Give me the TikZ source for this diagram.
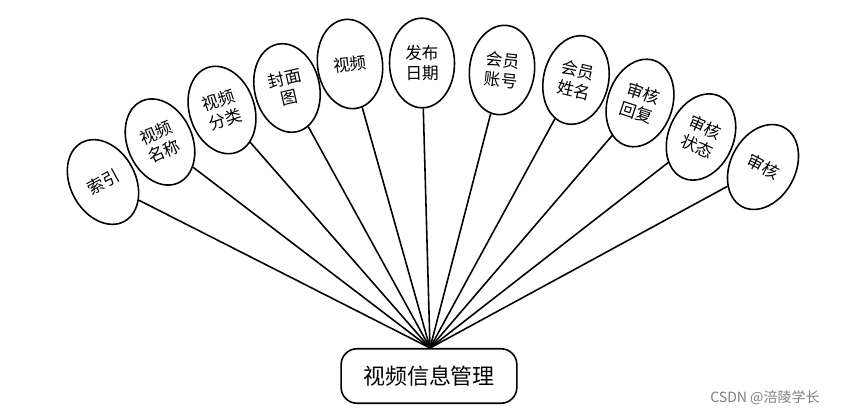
\documentclass[tikz,border=0pt]{standalone}
\usepackage{fontspec}
\usetikzlibrary{shapes.geometric}
\newfontfamily\cjk{Noto Sans CJK SC}
\begin{document}
\begin{tikzpicture}[x=0.02cm,y=0.02cm,
  attr/.style={draw,ellipse,line width=0.9pt,minimum width=37pt,minimum height=51pt,inner sep=0pt,font=\cjk\fontsize{9.5}{11.5}\selectfont,align=center},
  conn/.style={line width=0.9pt},
  ent/.style={draw,rounded corners=9pt,line width=0.9pt,minimum width=100pt,minimum height=31pt,font=\cjk\fontsize{12.5}{14}\selectfont}]
\useasboundingbox (0,0) rectangle (851,416);
\fill[white] (0,0) rectangle (851,416);
\node[ent] (box) at (429,40) {视频信息管理};
\coordinate (hub) at (430,68);
\foreach \n/\x/\y/\t in {a1/103/234/索引,a2/160/274/视频\\名称,a3/222/306/视频\\分类,a4/287/328/封面\\图,a5/350/352/视频,a6/422/353/发布\\日期,a7/502/346/会员\\账号,a8/576/336/会员\\姓名,a9/640/313/审核\\回复,a10/701/279/审核\\状态,a11/763/249/审核}{
  \pgfmathsetmacro\ang{0.45*(atan2(68-\y,430-\x)+90)}
  \node[attr,rotate=\ang] (\n) at (\x,\y) {\t};
  \draw[conn] (hub) -- (\n);
}
\node[font=\fontsize{8}{9}\selectfont\cjk,text=gray] at (765,18) {CSDN @涪陵学长};
\end{tikzpicture}
\end{document}
